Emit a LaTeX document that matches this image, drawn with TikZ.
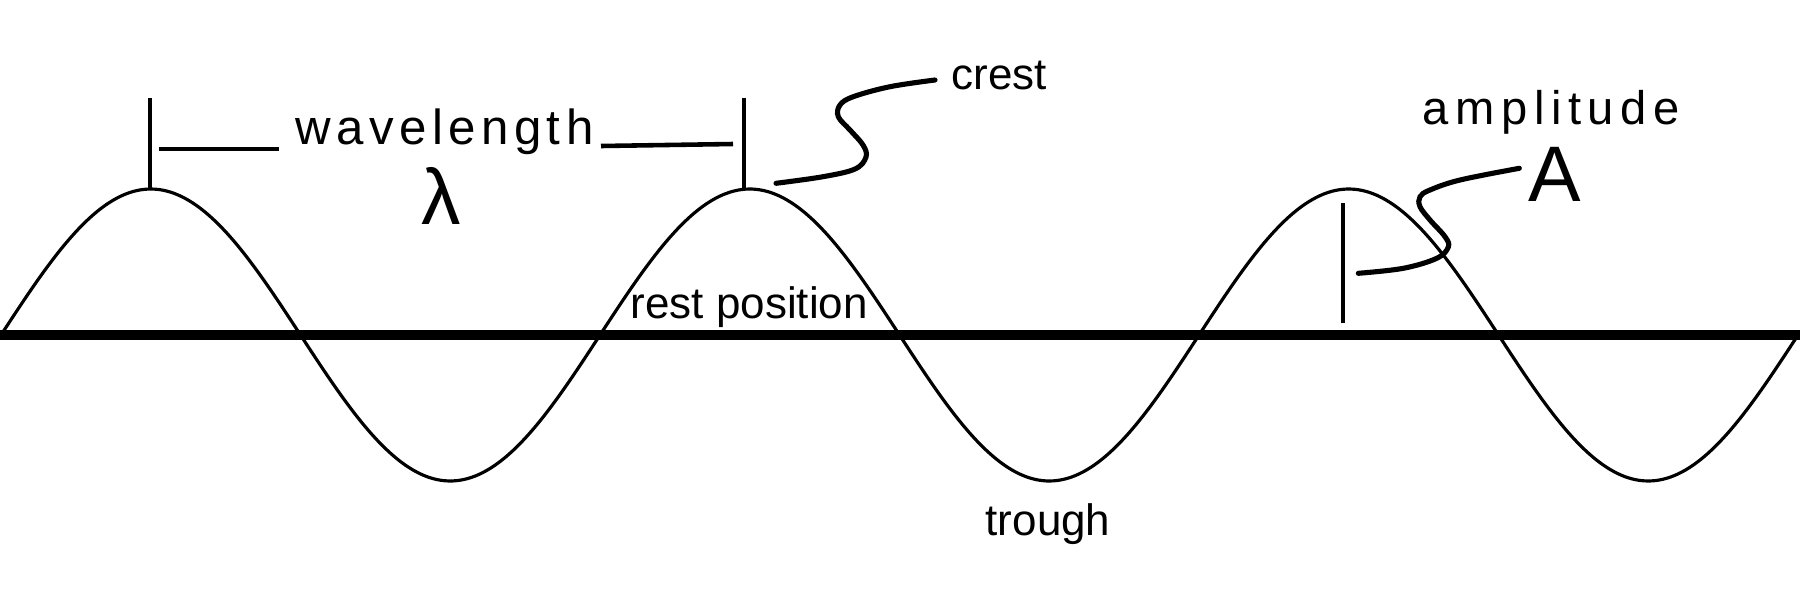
\documentclass[tikz,border=0pt]{standalone}
\usepackage{fontspec}
\setmainfont{Liberation Sans}
\newfontfamily\spacedfont{Liberation Sans}[LetterSpace=11]
\newfontfamily\widefont{Liberation Sans}[LetterSpace=14]
\usetikzlibrary{positioning}

\begin{document}
\begin{tikzpicture}
		[x=0.01cm, y=-0.01cm,
		 wave/.style={line width=0.9pt},
		 restline/.style={line width=2.85pt},
		 peakmark/.style={line width=1.2pt},
		 dimline/.style={line width=1.3pt},
		 leader/.style={line width=1.45pt, line cap=round},
		 txt/.style={inner sep=0pt, anchor=base west, font=\fontsize{12.5}{14}\selectfont},
		 spaced/.style={inner sep=0pt, anchor=base west, font=\spacedfont\fontsize{14}{16}\selectfont},
		 symbol/.style={inner sep=0pt, font=\fontsize{22.4}{26}\selectfont}]

		\useasboundingbox (0,0) rectangle (1800,594);

		\draw[restline] (0,335) -- (1800,335);
		\draw[wave] plot[domain=1:1798, samples=240, smooth] (\x, {335-146*sin((\x-1)*0.601)});

		\coordinate (crestA) at (150,189);
		\coordinate (crestB) at (744,188);
		\coordinate (topA) at (150,98);
		\coordinate (topB) at (744,98);
		\draw[peakmark] (crestA) -- (topA);
		\draw[peakmark] (crestB) -- (topB);

		\node[spaced] (WaveLength) at (295,144.5) {wavelength};
		\node[symbol] (Lambda) [below=0.11cm of WaveLength, xshift=-0.03cm] {λ};
		\coordinate (dimA) at (159,149);
		\coordinate (dimB) at (279,149);
		\coordinate (dimC) at (601,146);
		\coordinate (dimD) at (733,144);
		\draw[dimline] (dimA) -- (dimB);
		\draw[dimline] (dimC) -- (dimD);

		\node[txt] (Crest) at (951,89.3) {crest};
		\coordinate (crestFoot) at (776,183.3);
		\coordinate (crestEnd) at (935,80);
		\draw[leader] plot[smooth, tension=0.6] coordinates {(crestFoot) (823,176.7) (855,169) (866,157) (863,145) (850,130) (838.3,116.7) (840,105) (853.3,96.7) (890,86.7) (crestEnd)};

		\node[spaced, font=\widefont\fontsize{13.4}{16}\selectfont] (Amplitude) at (1422,124.3) {amplitude};
		\node[symbol, anchor=base west] (AmpA) at (1528,201.7) {A};
		\coordinate (ampBase) at (1342.7,323.3);
		\coordinate (ampTop) at (1342.7,203.3);
		\draw[peakmark] (ampBase) -- (ampTop);
		\coordinate (ampFoot) at (1358.3,273.3);
		\coordinate (ampEnd) at (1519.3,168.3);
		\draw[leader] plot[smooth, tension=0.6] coordinates {(ampFoot) (1403.3,268.3) (1436.7,258.3) (1448.3,247) (1445,236.7) (1430,220) (1420,206.7) (1420,196.7) (1430,190) (1460,180) (ampEnd)};

		\node[txt] (RestPosition) at (630,318.3) {rest position};
		\node[txt] (Trough) at (985,535) {trough};
	\end{tikzpicture}
\end{document}
